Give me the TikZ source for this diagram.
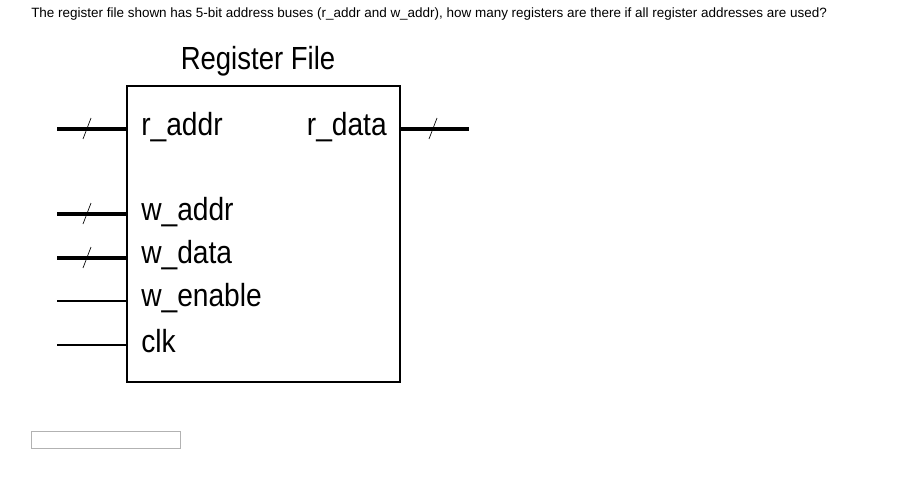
\documentclass[tikz,border=0pt]{standalone}
\usepackage{fontspec}
\setmainfont{Liberation Sans}
\begin{document}
\begin{tikzpicture}[x=0.75pt,y=-0.75pt,
  lbl/.style={inner sep=0pt,font=\fontsize{24}{24}\selectfont},
  bus/.style={line width=3pt},
  wire/.style={line width=0.8pt},
  slash/.style={line width=0.5pt}]
\useasboundingbox (0,0) rectangle (904,478);
\node[anchor=west,inner sep=0pt,font=\fontsize{10.1}{11}\selectfont] (q) at (31,14) {The register file shown has 5-bit address buses (r\_addr and w\_addr), how many registers are there if all register addresses are used?};
\coordinate (bnw) at (127,86); \coordinate (bse) at (400,382);
\draw[line width=2.2pt] (bnw) rectangle (bse);
\node[lbl] (title) at (258,61) {\scalebox{0.86}[1]{Register File}};
\node[lbl,anchor=west] (ra) at (141,127) {\scalebox{0.88}[1]{r\_addr}};
\node[lbl,anchor=east] (rd) at (387,127) {\scalebox{0.88}[1]{r\_data}};
\node[lbl,anchor=west] (wa) at (141,212) {\scalebox{0.88}[1]{w\_addr}};
\node[lbl,anchor=west] (wd) at (141,255) {\scalebox{0.88}[1]{w\_data}};
\node[lbl,anchor=west] (we) at (141,298) {\scalebox{0.88}[1]{w\_enable}};
\node[lbl,anchor=west] (ck) at (141,341) {\scalebox{0.88}[1]{clk}};
\coordinate (p1) at (57,129); \coordinate (p2) at (57,214); \coordinate (p3) at (57,258);
\coordinate (p4) at (57,301); \coordinate (p5) at (57,345); \coordinate (p6) at (469,129);
\draw[bus] (p1) -- (p1 -| bnw);
\draw[bus] (p2) -- (p2 -| bnw);
\draw[bus] (p3) -- (p3 -| bnw);
\draw[wire] (p4) -- (p4 -| bnw);
\draw[wire] (p5) -- (p5 -| bnw);
\draw[bus] (p6 -| bse) -- (p6);
\foreach \x/\y in {87/129,87/214,87/258,433/129}
  \draw[slash] (\x-4,\y+10) -- (\x+4,\y-11);
\draw[gray!60] (31,431) rectangle (180,448);
\end{tikzpicture}
\end{document}
